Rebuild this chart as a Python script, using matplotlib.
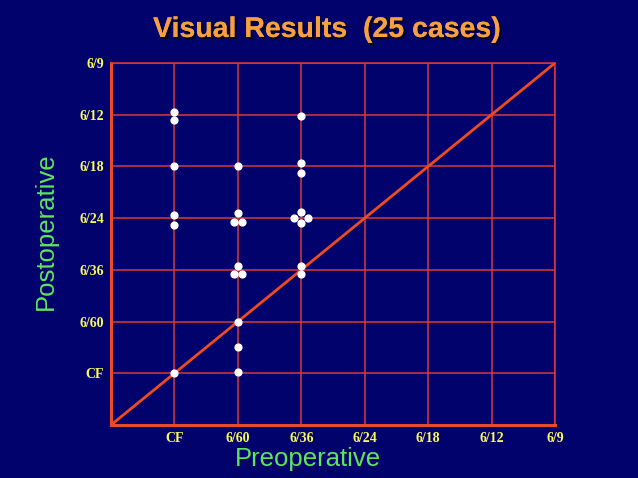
import matplotlib
matplotlib.use('Agg')
from matplotlib import pyplot as plt
from matplotlib import patheffects

# 视力等级：0 = 原点, 1 = CF, 2 = 6/60, ... 7 = 6/9
levels = ['CF', '6/60', '6/36', '6/24', '6/18', '6/12', '6/9']

# 25 例术前/术后视力（散点，同一位置的点稍作偏移）
pre = [1, 1, 1, 1, 1, 1,
       2, 2, 1.94, 2.06, 2, 1.94, 2.06, 2, 2, 2,
       3, 3, 3, 3, 2.89, 3.11, 3, 3, 3]
post = [6.05, 5.9, 5.0, 4.06, 3.87, 1.0,
        5.0, 4.1, 3.93, 3.93, 3.07, 2.92, 2.92, 2.0, 1.5, 1.03,
        5.98, 5.07, 4.87, 4.12, 4.0, 4.0, 3.9, 3.08, 2.92]

bg = '#02026c'
red = '#d83a3a'
yellow = '#fafa5a'
green = '#5ee65a'

fig = plt.figure(figsize=(6.38, 4.78), dpi=100, facecolor=bg)
ax = fig.add_axes([111/638, 53/478, 444/638, 362/478], facecolor=bg)

ticks = list(range(1, 8))
ax.set_xlim(0, 7)
ax.set_ylim(0, 7)
ax.set_xticks(ticks)
ax.set_yticks(ticks)
ax.set_xticklabels(levels)
ax.set_yticklabels(levels)
for lab in ax.get_xticklabels() + ax.get_yticklabels():
    lab.set_fontfamily('Liberation Serif')
    lab.set_fontweight('bold')
    lab.set_fontsize(10)
    lab.set_color(yellow)
ax.tick_params(length=0, pad=5)

ax.grid(True, color=red, linewidth=1.1)
for s in ['top', 'right']:
    ax.spines[s].set_color(red)
    ax.spines[s].set_linewidth(1.1)
for s in ['left', 'bottom']:
    ax.spines[s].set_color('#e84a2a')
    ax.spines[s].set_linewidth(2.2)

ax.plot([0, 7], [0, 7], color='#f04a1e', linewidth=2, zorder=3)
ax.scatter(pre, post, s=24, color='white', zorder=4, clip_on=False)

fig.text(327/638, 1 - 30/478, 'Visual Results  (25 cases)', ha='center', va='center',
         fontsize=20.5, fontweight='bold', color='#f8a040', family='Liberation Sans',
         path_effects=[patheffects.withSimplePatchShadow(offset=(1.5, -1.5), shadow_rgbFace='black', alpha=0.8),
                       patheffects.Normal()])
fig.text(308/638, 1 - 459/478, 'Preoperative', ha='center', va='center',
         fontsize=18.5, color=green, family='Liberation Sans')
fig.text(46/638, 1 - 231/478, 'Postoperative', ha='center', va='center',
         fontsize=18.5, color=green, family='Liberation Sans', rotation=90)

plt.savefig('out.png', dpi=100, facecolor=bg)
